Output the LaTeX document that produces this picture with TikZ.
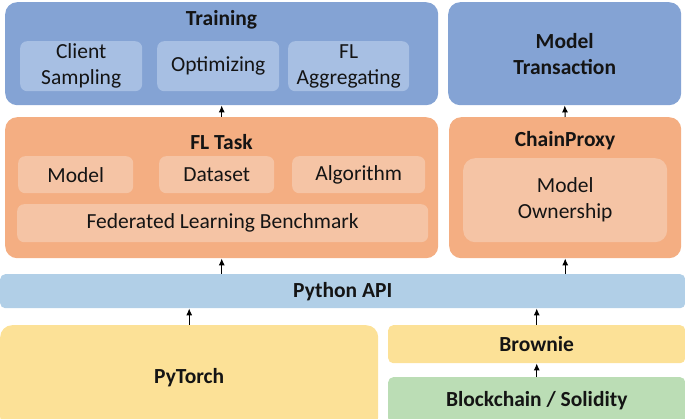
\documentclass[tikz,border=0pt]{standalone}
\usepackage{fontspec}
\setmainfont{Carlito}
\usetikzlibrary{arrows.meta}
\definecolor{blueOuter}{HTML}{84A3D4}
\definecolor{blueInner}{HTML}{A7BFE3}
\definecolor{orangeOuter}{HTML}{F4AE82}
\definecolor{orangeInner}{HTML}{F5C4A5}
\definecolor{apiBlue}{HTML}{B1CFE7}
\definecolor{yellowBox}{HTML}{FCE197}
\definecolor{greenBox}{HTML}{BBDDB5}
\definecolor{txt}{HTML}{141414}
\newcommand{\diagfont}{\fontsize{21.5}{26}\selectfont}
\tikzset{
  outerbox/.style={rectangle, rounded corners=12pt, inner sep=0pt, anchor=north west, draw=none},
  innerbox/.style={rectangle, rounded corners=7pt, inner sep=0pt, anchor=north west, draw=none,
     text=txt, align=center, font=\diagfont},
  flatbox/.style={rectangle, rounded corners=5pt, inner sep=0pt, anchor=north west, draw=none,
     text=txt, align=center, font=\diagfont\bfseries},
  title/.style={text=txt, font=\diagfont\bfseries, align=center, inner sep=0pt},
  arr/.style={-{Latex[length=7pt,width=6pt]}, line width=1pt, draw=black},
}
\begin{document}
\begin{tikzpicture}[x=1pt,y=-1pt]
\useasboundingbox (0,0) rectangle (685,419);
% Training
\node[outerbox, fill=blueOuter, minimum width=433pt, minimum height=103pt] (training) at (5,2) {};
\node[title] (trainingT) at (221.5,20) {Training};
\node[innerbox, fill=blueInner, minimum width=122pt, minimum height=50pt] (client) at (20,41) {Client\\Sampling};
\node[innerbox, fill=blueInner, minimum width=122pt, minimum height=50pt] (optim) at (157,41) {Optimizing};
\node[innerbox, fill=blueInner, minimum width=121pt, minimum height=50pt] (aggr) at (288,41) {FL\\Aggregating};
% Model Transaction
\node[outerbox, fill=blueOuter, minimum width=233pt, minimum height=103pt, text=txt, align=center, font=\diagfont\bfseries] (trans) at (448,2) {Model\\Transaction};
% FL Task
\node[outerbox, fill=orangeOuter, minimum width=433pt, minimum height=141pt] (fltask) at (5,117) {};
\node[title] (fltaskT) at (221.5,142) {FL Task};
\node[innerbox, fill=orangeInner, minimum width=115pt, minimum height=37pt] (model) at (18,156) {Model};
\node[innerbox, fill=orangeInner, minimum width=115pt, minimum height=37pt] (dataset) at (159,156) {Dataset};
\node[innerbox, fill=orangeInner, minimum width=133pt, minimum height=37pt] (algo) at (292,156) {Algorithm};
\node[innerbox, fill=orangeInner, minimum width=411pt, minimum height=38pt] (bench) at (17,204) {Federated Learning Benchmark};
% ChainProxy
\node[outerbox, fill=orangeOuter, minimum width=232pt, minimum height=141pt] (proxy) at (449,117) {};
\node[title] (proxyT) at (565,141) {ChainProxy};
\node[innerbox, rounded corners=12pt, fill=orangeInner, minimum width=204pt, minimum height=84pt] (owner) at (463,158) {Model\\Ownership};
% Python API
\node[flatbox, fill=apiBlue, minimum width=685pt, minimum height=34pt] (api) at (0,274) {Python API};
% PyTorch
\node[outerbox, fill=yellowBox, minimum width=378pt, minimum height=104pt, text=txt, font=\diagfont\bfseries] (torch) at (0,325) {PyTorch};
% Brownie
\node[flatbox, fill=yellowBox, minimum width=297pt, minimum height=38pt] (brownie) at (388,325) {Brownie};
% Blockchain
\node[flatbox, fill=greenBox, minimum width=297pt, minimum height=46pt] (chain) at (388,377) {Blockchain / Solidity};
% arrows
\draw[arr] (fltask.north) -- (training.south);
\draw[arr] (proxy.north) -- (trans.south);
\draw[arr] (api.north -| fltask.south) -- (fltask.south);
\draw[arr] (api.north -| proxy.south) -- (proxy.south);
\draw[arr] (torch.north) -- (torch.north |- api.south);
\draw[arr] (brownie.north) -- (brownie.north |- api.south);
\draw[arr] (chain.north) -- (brownie.south);
\end{tikzpicture}
\end{document}
